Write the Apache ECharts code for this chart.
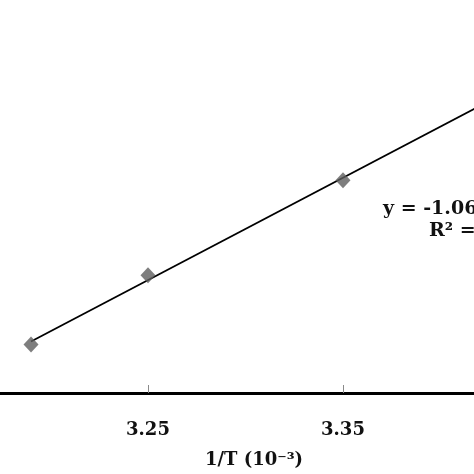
<!DOCTYPE html>
<html>
<head>
<meta charset="utf-8">
<script src="https://cdn.jsdelivr.net/npm/echarts@6/dist/echarts.min.js"></script>
<style>
html,body{margin:0;padding:0;background:#fff;}
#chart{width:474px;height:474px;}
</style>
</head>
<body>
<div id="chart"></div>
<script>
// Data
const xValues = [3.19, 3.25, 3.35, 3.45];
const yValues = [0.49, 1.19, 2.15, 3.21];
const tickValues = [3.25, 3.35];
const tickLabels = ['3.25', '3.35'];
const axisTitle = '1/T (10\u207B\u00B3)';
const equationText = 'y = -1.0637x + 3.9512';
const r2Text = 'R\u00B2 = 0.9968';

// Least-squares trend line from the data
const n = xValues.length;
const mx = xValues.reduce((a, b) => a + b, 0) / n;
const my = yValues.reduce((a, b) => a + b, 0) / n;
let sxy = 0, sxx = 0;
for (let i = 0; i < n; i++) {
  sxy += (xValues[i] - mx) * (yValues[i] - my);
  sxx += (xValues[i] - mx) * (xValues[i] - mx);
}
const slope = sxy / sxx;
const icpt = my - slope * mx;
const xMinD = Math.min(...xValues), xMaxD = Math.max(...xValues);
const trend = [[xMinD, icpt + slope * xMinD], [xMaxD, icpt + slope * xMaxD]];

const points = xValues.map((x, i) => [x, yValues[i]]);

const chart = echarts.init(document.getElementById('chart'));
const font = 'DejaVu Serif';
chart.setOption({
  animation: false,
  backgroundColor: '#ffffff',
  grid: { left: 0, right: 0, top: 0, bottom: 77, containLabel: false },
  xAxis: {
    type: 'value',
    min: 3.25 - 148 / 1950,
    max: 3.25 + 326 / 1950,
    splitLine: { show: false },
    axisLine: { show: true, lineStyle: { color: '#000', width: 3 } },
    axisTick: { show: true, inside: true, length: 8, customValues: tickValues,
      lineStyle: { color: '#8a8a8a', width: 1 } },
    axisLabel: {
      customValues: tickValues,
      formatter: v => { const i = tickValues.findIndex(t => Math.abs(t - v) < 1e-9); return i >= 0 ? tickLabels[i] : ''; },
      margin: 28, fontFamily: font, fontWeight: 'bold', fontSize: 18, color: '#111'
    },
    name: axisTitle,
    nameLocation: 'middle',
    nameGap: 58,
    nameTextStyle: { fontFamily: font, fontWeight: 'bold', fontSize: 18, color: '#111', padding: [0, 0, 0, 34] }
  },
  yAxis: {
    type: 'value', min: 0, max: 3.97, show: false, splitLine: { show: false }
  },
  series: [
    {
      type: 'line', data: trend, symbol: 'none', clip: true,
      lineStyle: { color: '#000', width: 1.8 }, z: 2
    },
    {
      type: 'scatter', data: points, symbol: 'diamond', symbolSize: [15, 16], clip: true,
      itemStyle: { color: '#5e5e5e' }, z: 3
    }
  ],
  graphic: [
    { type: 'text', left: 383, top: 200, style: { text: equationText, font: 'bold 19px "DejaVu Serif"', fill: '#111' } },
    { type: 'text', left: 429, top: 222, style: { text: r2Text, font: 'bold 19px "DejaVu Serif"', fill: '#111' } }
  ]
});
</script>
</body>
</html>
